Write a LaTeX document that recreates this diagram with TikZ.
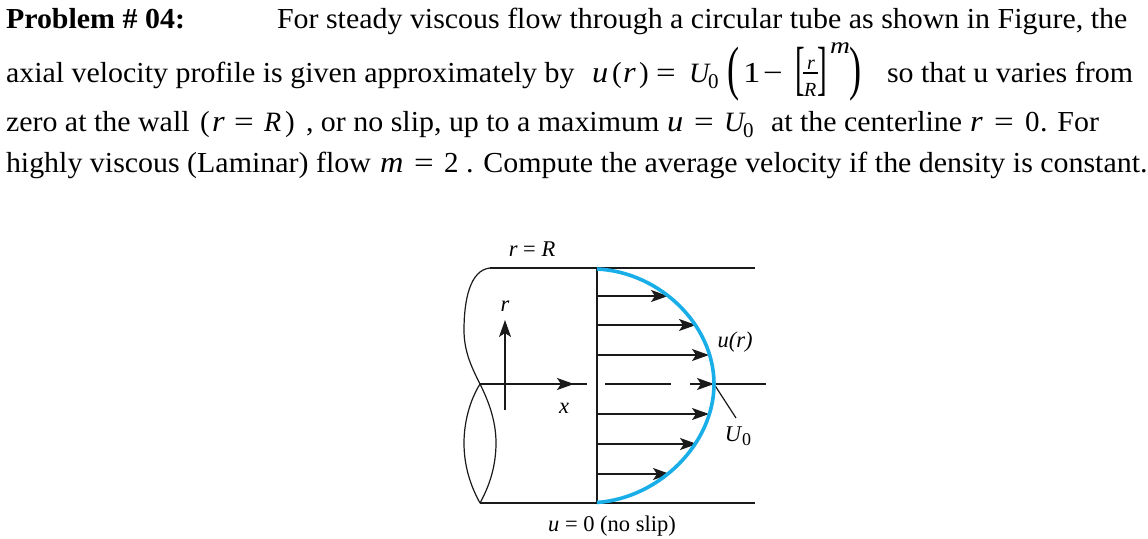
\documentclass[tikz,border=0pt]{standalone}
\usepackage{fontspec}
\usepackage{graphicx}
\setmainfont{Liberation Serif}[FakeStretch=1.032]
\newfontfamily\figfont{Liberation Serif}
\newfontfamily\mathsfont{Liberation Serif}[FakeStretch=1.2]
\newfontfamily\mathifont{Liberation Serif}[FakeStretch=1.08]
\usetikzlibrary{arrows.meta}
\definecolor{profileblue}{HTML}{19AEE8}
\definecolor{inkline}{HTML}{1A1A1A}
\tikzset{
 x=1pt,y=-1pt,
 txt/.style={anchor=base west,inner sep=0pt,outer sep=0pt,font=\fontsize{29}{29}\selectfont,text=black},
 mth/.style={txt,font=\mathsfont\fontsize{29}{29}\selectfont},
 mup/.style={txt,font=\figfont\fontsize{29}{29}\selectfont},
 mit/.style={txt,font=\mathifont\itshape\fontsize{30}{30}\selectfont},
 capit/.style={txt,font=\figfont\itshape\fontsize{28}{28}\selectfont},
 subs/.style={txt,font=\figfont\fontsize{21}{21}\selectfont},
 frc/.style={txt,font=\figfont\itshape\fontsize{20}{20}\selectfont},
 fig/.style={anchor=base,inner sep=0pt,outer sep=0pt,font=\figfont\fontsize{22.5}{22.5}\selectfont,text=black},
 wall/.style={line width=1.5pt,draw=inkline},
 thinline/.style={line width=1.2pt,draw=inkline},
 flow/.style={line width=1.2pt,draw=inkline,-{Stealth[length=17pt,width=12pt,inset=4pt]}},
}
\begin{document}
\begin{tikzpicture}
\useasboundingbox (0,0) rectangle (1148,538);
\fill[white] (0,0) rectangle (1148,538);
% line 1
\node[txt] (l1a) at (6,28) {\textbf{Problem \# 04:}};
\node[txt] (l1b) at (277,28) {For steady viscous flow through a circular tube as shown in Figure, the};
% line 2
\node[txt] (l2a) at (6,82) {axial velocity profile is given approximately by};
\node[mit] (e1) at (592,82) {u};
\node[mup] (e2) at (612,82) {(};
\node[mit] (e3) at (623,82) {r};
\node[mup] (e4) at (639,82) {)};
\node[mth] (e5) at (656,82) {=};
\node[capit] (e6) at (689,82) {U};
\node[subs] (e7) at (708,88) {0};
\node[mup] (e8) at (727,88) {\scalebox{1.25}{\scalebox{1}[1.65]{(}}};
\node[mth] (e9) at (743,82) {1};
\node[mth] (e10) at (763,82) {−};
\node[mup] (e11) at (795,88) {\scalebox{1}[2.05]{[}};
\node[frc] (e12) at (807,69) {r};
\node[frc] (e13) at (804,96) {R};
\coordinate (barL) at (803,73);
\coordinate (barR) at (818,73);
\draw[line width=1.5pt] (barL) -- (barR);
\node[mup] (e14) at (817,88) {\scalebox{1}[2.05]{]}};
\node[txt,font=\mathsfont\itshape\fontsize{23}{23}\selectfont] (e15) at (830,53) {m};
\node[mup] (e16) at (849,88) {\scalebox{1.25}{\scalebox{1}[1.65]{)}}};
\node[txt] (l2b) at (887,82) {so that u varies from};
% line 3
\node[txt] (l3a) at (6,131) {zero at the wall};
\node[mup] (m1) at (200,131) {(};
\node[mit] (m2) at (212,131) {r};
\node[mth] (m3) at (234,131) {=};
\node[capit] (m4) at (264,131) {R};
\node[mup] (m5) at (285,131) {)};
\node[txt] (l3b) at (306,131) {, or no slip, up to a maximum};
\node[mit] (m6) at (667,131) {u};
\node[mth] (m7) at (694,131) {=};
\node[capit] (m8) at (724,131) {U};
\node[subs] (m9) at (743,137) {0};
\node[txt] (l3c) at (771,131) {at the centerline};
\node[mit] (m10) at (970,131) {r};
\node[mth] (m11) at (994,131) {=};
\node[mup] (m12) at (1025,131) {0};
\node[txt] (l3d) at (1040,131) {. For};
% line 4
\node[txt] (l4a) at (6,172) {highly viscous (Laminar) flow};
\node[mit] (n1) at (380,172) {m};
\node[mth] (n2) at (414,172) {=};
\node[mup] (n3) at (444,172) {2};
\node[txt] (l4b) at (466,172) {. Compute the average velocity if the density is constant.};
% figure anchors
\coordinate (topL) at (490,268);
\coordinate (topV) at (597,268);
\coordinate (topR) at (755,268);
\coordinate (botL) at (480,503);
\coordinate (botV) at (597,503);
\coordinate (botR) at (755,503);
\coordinate (cL) at (480,384);
\coordinate (cA) at (587,384);
\coordinate (cB) at (605,384);
\coordinate (cC) at (671,384);
\coordinate (cD) at (690,384);
\coordinate (cE) at (714,384);
\coordinate (cR) at (766,384);
\coordinate (rA) at (505,410);
\coordinate (rB) at (505,320);
\coordinate (u0end) at (736,418);
\coordinate (xTip) at (574,384);
\draw[wall] (topL) -- (topR);
\draw[wall] (botL) -- (botR);
\draw[wall] (topV) -- (botV);
\draw[thinline] (cL) -- (cA);
\draw[thinline] (cB) -- (cC);
\draw[thinline] (cD) -- (cR);
\draw[flow] (cL) -- (xTip);
\draw[flow] (cD) -- (cE);
\draw[flow] (rA) -- (rB);
\foreach \yy/\xx in {296/668,325/696,355/709,414/709,444/697,474/670}{
  \coordinate (s) at (597,\yy);
  \coordinate (e) at (\xx,\yy);
  \draw[flow] (s) -- (e);
}
\draw[thinline] (cE) -- (u0end);
% cross-section
\draw[thinline] (topL) .. controls (470,270) and (464,300) .. (464,330) .. controls (464,352) and (472,368) .. (cL) .. controls (488,400) and (496,420) .. (496,443) .. controls (496,465) and (490,485) .. (botL);
\draw[thinline] (cL) .. controls (470,400) and (464,422) .. (464,443) .. controls (464,465) and (470,485) .. (botL);
% profile
\draw[line width=3.6pt,draw=profileblue] (597,269) .. controls (660,272) and (714,325) .. (cE) .. controls (714,443) and (660,498) .. (597,502.5);
% labels
\node[fig] (lrR) at (532,256) {\textit{r} = \textit{R}};
\node[fig] (lr) at (505,311) {\textit{r}};
\node[fig] (lx) at (564,413) {\textit{x}};
\node[fig] (lu) at (735,347) {\textit{u(r)}};
\node[fig] (lU) at (738,441) {\textit{U}\raisebox{-4pt}{\fontsize{18}{18}\selectfont 0}};
\node[fig] (lns) at (612,531) {\textit{u} = 0 (no slip)};
\end{tikzpicture}
\end{document}
